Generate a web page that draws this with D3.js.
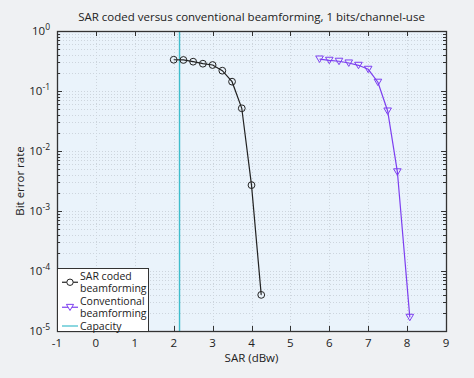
<!DOCTYPE html>
<html><head><meta charset="utf-8">
<script src="https://cdn.jsdelivr.net/npm/d3@7"></script>
<style>body{margin:0;background:#eff1f3}svg{display:block}</style>
</head><body><svg id="c" width="474" height="378"></svg>
<script>
const title = "SAR coded versus conventional beamforming, 1 bits/channel-use";
const xLabel = "SAR (dBw)";
const yLabel = "Bit error rate";
const xTicks = [-1,0,1,2,3,4,5,6,7,8,9];
const yExponents = [0,-1,-2,-3,-4,-5];
const sarX = [2.0, 2.25, 2.5, 2.75, 3.0, 3.25, 3.5, 3.75, 4.0, 4.25];
const sarBer = [0.332, 0.329, 0.308, 0.285, 0.271, 0.218, 0.143, 0.0515, 0.0027, 0.00004];
const convX = [5.75, 6.0, 6.25, 6.5, 6.75, 7.0, 7.25, 7.5, 7.75, 8.07];
const convBer = [0.341, 0.325, 0.313, 0.293, 0.268, 0.230, 0.140, 0.0464, 0.0045, 0.0000169];
const capacityX = [2.15];
const legendLabels = [["SAR coded","beamforming"],["Conventional","beamforming"],["Capacity"]];

const W=474,H=378, m={l:57,r:28,t:31,b:47};
const svg=d3.select("#c");
const font="'Open Sans', sans-serif";
svg.append("rect").attr("width",W).attr("height",H).attr("fill","#eff1f3");
const x=d3.scaleLinear().domain([-1,9]).range([m.l,W-m.r]);
const y=d3.scaleLog().domain([1e-5,1]).range([H-m.b,m.t]);
const pw=W-m.r-m.l, ph=H-m.b-m.t;
svg.append("rect").attr("x",m.l).attr("y",m.t).attr("width",pw).attr("height",ph).attr("fill","#eaf3fb");

// grid
const minorY=[];
for(let e=-5;e<0;e++) for(let k=1;k<10;k++) minorY.push(k*Math.pow(10,e));
minorY.push(1);
const g=svg.append("g").attr("stroke","#cdd5dd").attr("stroke-width",1).attr("stroke-dasharray","1,2");
minorY.forEach(v=>g.append("line").attr("x1",m.l).attr("x2",W-m.r).attr("y1",Math.round(y(v))+0.5).attr("y2",Math.round(y(v))+0.5));
xTicks.forEach(v=>g.append("line").attr("x1",Math.round(x(v))+0.5).attr("x2",Math.round(x(v))+0.5).attr("y1",m.t).attr("y2",H-m.b));

// capacity
svg.selectAll(".cap").data(capacityX).join("line").attr("x1",d=>x(d)).attr("x2",d=>x(d)).attr("y1",m.t).attr("y2",H-m.b).attr("stroke","#3fbccb").attr("stroke-width",1.4);

// series
const line=d3.line().x(d=>x(d[0])).y(d=>y(d[1]));
const sar=sarX.map((v,i)=>[v,sarBer[i]]);
const conv=convX.map((v,i)=>[v,convBer[i]]);
svg.append("path").attr("d",line(sar)).attr("fill","none").attr("stroke","#222").attr("stroke-width",1.2);
svg.selectAll(".sm").data(sar).join("circle").attr("cx",d=>x(d[0])).attr("cy",d=>y(d[1])).attr("r",3.4).attr("fill","none").attr("stroke","#222").attr("stroke-width",1);
svg.append("path").attr("d",line(conv)).attr("fill","none").attr("stroke","#7d3ff0").attr("stroke-width",1.2);
const tri=(cx,cy,s)=>`M${cx-s},${cy-s*0.8}L${cx+s},${cy-s*0.8}L${cx},${cy+s*0.9}Z`;
svg.selectAll(".cm").data(conv).join("path").attr("d",d=>tri(x(d[0]),y(d[1]),3.8)).attr("fill","none").attr("stroke","#7d3ff0").attr("stroke-width",1);

// frame & ticks
const f=svg.append("g").attr("stroke","#333").attr("stroke-width",1);
xTicks.forEach(v=>{const xx=Math.round(x(v))+0.5;
  f.append("line").attr("x1",xx).attr("x2",xx).attr("y1",H-m.b).attr("y2",H-m.b-5);
  f.append("line").attr("x1",xx).attr("x2",xx).attr("y1",m.t).attr("y2",m.t+5);});
minorY.forEach(v=>{const yy=Math.round(y(v))+0.5; const major=Math.abs(Math.log10(v)%1)<1e-9; const L=major?5:3;
  f.append("line").attr("x1",m.l).attr("x2",m.l+L).attr("y1",yy).attr("y2",yy);
  f.append("line").attr("x1",W-m.r).attr("x2",W-m.r-L).attr("y1",yy).attr("y2",yy);});
svg.append("rect").attr("x",m.l+0.5).attr("y",m.t+0.5).attr("width",pw).attr("height",ph).attr("fill","none").attr("stroke","#333").attr("stroke-width",1.3);

// tick labels
svg.selectAll(".xt").data(xTicks).join("text").attr("x",d=>x(d)).attr("y",H-m.b+16).attr("text-anchor","middle")
  .attr("font-family",font).attr("font-size",11.5).attr("fill","#222").text(d=>d);
yExponents.forEach(e=>{
  const t=svg.append("text").attr("x",50).attr("y",y(Math.pow(10,e))+4).attr("text-anchor","end").attr("font-family",font).attr("font-size",11.5).attr("fill","#222");
  t.append("tspan").text("10");
  t.append("tspan").attr("dy",-5).attr("font-size",8.5).text(e);
});

svg.append("text").attr("x",(m.l+W-m.r)/2).attr("y",21).attr("text-anchor","middle").attr("font-family",font).attr("font-size",11.5).attr("fill","#222").text(title);
svg.append("text").attr("x",(m.l+W-m.r)/2).attr("y",362).attr("text-anchor","middle").attr("font-family",font).attr("font-size",11.5).attr("fill","#222").text(xLabel);
svg.append("text").attr("transform",`translate(24,${(m.t+H-m.b)/2}) rotate(-90)`).attr("text-anchor","middle").attr("font-family",font).attr("font-size",11.5).attr("fill","#222").text(yLabel);

// legend
const lg=svg.append("g");
const step=12.5, legTop=268;
lg.append("rect").attr("x",m.l+0.5).attr("y",legTop+0.5).attr("width",91).attr("height",H-m.b-legTop).attr("fill","#fff").attr("stroke","#333").attr("stroke-width",1);
const lineYs=[0,1,2,3,4].map(i=>legTop+8+i*step);
const ly=[(lineYs[0]+lineYs[1])/2,(lineYs[2]+lineYs[3])/2,lineYs[4]];
const lcol=["#222","#7d3ff0","#3fbccb"];
ly.forEach((yy,i)=>lg.append("line").attr("x1",62).attr("x2",78).attr("y1",yy).attr("y2",yy).attr("stroke",lcol[i]).attr("stroke-width",1.2));
lg.append("circle").attr("cx",70).attr("cy",ly[0]).attr("r",3.2).attr("fill","#fff").attr("stroke","#222");
lg.append("path").attr("d",tri(70,ly[1],3.6)).attr("fill","#fff").attr("stroke","#7d3ff0");
let k=0;
legendLabels.forEach((ls,i)=>ls.forEach(s=>{
  lg.append("text").attr("x",80).attr("y",lineYs[k++]+3.5).attr("font-family",font).attr("font-size",10.5).attr("fill","#222").text(s);
}));
</script></body></html>
